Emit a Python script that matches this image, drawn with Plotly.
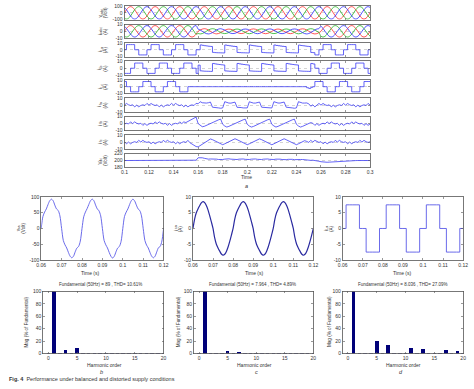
import plotly.graph_objects as go

W, H = 474, 389

# ---------------- data ----------------
# time grids (s)
t_top = [round(0.1 + k / 600.0, 6) for k in range(121)]
t_bc = [round(0.06 + k / 1200.0, 6) for k in range(73)]
t_d = [round(0.06 + k / 600.0, 6) for k in range(37)]
harm_order = list(range(21))

top_xticks = [0.1, 0.12, 0.14, 0.16, 0.18, 0.2, 0.22, 0.24, 0.26, 0.28, 0.3]
top_xlabels = ['0.1', '0.12', '0.14', '0.16', '0.18', '0.2', '0.22', '0.24', '0.26', '0.28', '0.3']
bot_xticks = [0.06, 0.07, 0.08, 0.09, 0.1, 0.11, 0.12]
bot_xlabels = ['0.06', '0.07', '0.08', '0.09', '0.1', '0.11', '0.12']

v_sa = [
    0, 45, 78, 90, 78, 45, 0, -45, -78, -90, -78, -45,
    0, 45, 78, 90, 78, 45, 0, -45, -78, -90, -78, -45,
    0, 45, 78, 90, 78, 45, 0, -45, -78, -90, -78, -45,
    0, 45, 78, 90, 78, 45, 0, -45, -78, -90, -78, -45,
    0, 45, 78, 90, 78, 45, 0, -45, -78, -90, -78, -45,
    0, 45, 78, 90, 78, 45, 0, -45, -78, -90, -78, -45,
    0, 45, 78, 90, 78, 45, 0, -45, -78, -90, -78, -45,
    0, 45, 78, 90, 78, 45, 0, -45, -78, -90, -78, -45,
    0, 45, 78, 90, 78, 45, 0, -45, -78, -90, -78, -45,
    0, 45, 78, 90, 78, 45, 0, -45, -78, -90, -78, -45,
    0]
v_sb = [
    -78, -90, -78, -45, 0, 45, 78, 90, 78, 45, 0, -45,
    -78, -90, -78, -45, 0, 45, 78, 90, 78, 45, 0, -45,
    -78, -90, -78, -45, 0, 45, 78, 90, 78, 45, 0, -45,
    -78, -90, -78, -45, 0, 45, 78, 90, 78, 45, 0, -45,
    -78, -90, -78, -45, 0, 45, 78, 90, 78, 45, 0, -45,
    -78, -90, -78, -45, 0, 45, 78, 90, 78, 45, 0, -45,
    -78, -90, -78, -45, 0, 45, 78, 90, 78, 45, 0, -45,
    -78, -90, -78, -45, 0, 45, 78, 90, 78, 45, 0, -45,
    -78, -90, -78, -45, 0, 45, 78, 90, 78, 45, 0, -45,
    -78, -90, -78, -45, 0, 45, 78, 90, 78, 45, 0, -45,
    -78]
v_sc = [
    78, 45, 0, -45, -78, -90, -78, -45, 0, 45, 78, 90,
    78, 45, 0, -45, -78, -90, -78, -45, 0, 45, 78, 90,
    78, 45, 0, -45, -78, -90, -78, -45, 0, 45, 78, 90,
    78, 45, 0, -45, -78, -90, -78, -45, 0, 45, 78, 90,
    78, 45, 0, -45, -78, -90, -78, -45, 0, 45, 78, 90,
    78, 45, 0, -45, -78, -90, -78, -45, 0, 45, 78, 90,
    78, 45, 0, -45, -78, -90, -78, -45, 0, 45, 78, 90,
    78, 45, 0, -45, -78, -90, -78, -45, 0, 45, 78, 90,
    78, 45, 0, -45, -78, -90, -78, -45, 0, 45, 78, 90,
    78, 45, 0, -45, -78, -90, -78, -45, 0, 45, 78, 90,
    78]

i_sa = [
    0, 4.1, 7.2, 8.3, 7.2, 4.1, 0, -4.1, -7.2, -8.3, -7.2, -4.1,
    0, 4.1, 7.2, 8.3, 7.2, 4.1, 0, -4.1, -7.2, -8.3, -7.2, -4.1,
    0, 4.1, 7.2, 8.3, 7.2, 4.1, 0, -4.1, -7.2, -8.3, -7.2, -4.1,
    0, 1.9, 3.2, 3.8, 3.3, 1.9, 0.1, -1.8, -3.1, -3.7, -3.2, -1.9,
    -0.2, 1.6, 2.8, 3.2, 2.9, 1.7, 0, -1.6, -2.8, -3.3, -2.9, -1.7,
    0, 1.7, 3.0, 3.5, 3.0, 1.7, 0, -1.7, -3.0, -3.5, -3.0, -1.8,
    -0.1, 1.6, 2.9, 3.3, 2.9, 1.6, 0, -1.6, -2.9, -3.4, -3.0, -1.7,
    0, 1.8, 3.1, 3.6, 3.2, 1.9, 0.2, -1.7, -3.2, -3.8, -3.4, -2.0,
    0, 4.1, 7.2, 8.3, 7.2, 4.1, 0, -4.1, -7.2, -8.3, -7.2, -4.1,
    0, 4.1, 7.2, 8.3, 7.2, 4.1, 0, -4.1, -7.2, -8.3, -7.2, -4.1,
    0]
i_sb = [
    -7.2, -8.3, -7.2, -4.1, 0, 4.1, 7.2, 8.3, 7.2, 4.1, 0, -4.1,
    -7.2, -8.3, -7.2, -4.1, 0, 4.1, 7.2, 8.3, 7.2, 4.1, 0, -4.1,
    -7.2, -8.3, -7.2, -4.1, 0, 4.1, 7.2, 8.3, 7.2, 4.1, 0, -4.1,
    -3.2, -3.8, -3.3, -1.9, 0, 1.9, 3.2, 3.8, 3.3, 1.9, 0, -1.9,
    -2.8, -3.3, -2.9, -1.7, 0.1, 1.7, 2.9, 3.3, 2.9, 1.6, 0, -1.6,
    -3.0, -3.5, -3.0, -1.7, 0, 1.7, 3.0, 3.5, 3.0, 1.7, 0, -1.7,
    -2.9, -3.3, -2.9, -1.6, 0, 1.6, 2.9, 3.4, 3.0, 1.7, 0, -1.6,
    -3.1, -3.6, -3.2, -1.9, -0.1, 1.8, 3.2, 3.8, 3.4, 2.0, 0.1, -1.9,
    -7.2, -8.3, -7.2, -4.1, 0, 4.1, 7.2, 8.3, 7.2, 4.1, 0, -4.1,
    -7.2, -8.3, -7.2, -4.1, 0, 4.1, 7.2, 8.3, 7.2, 4.1, 0, -4.1,
    -7.2]
i_sc = [
    7.2, 4.1, 0, -4.1, -7.2, -8.3, -7.2, -4.1, 0, 4.1, 7.2, 8.3,
    7.2, 4.1, 0, -4.1, -7.2, -8.3, -7.2, -4.1, 0, 4.1, 7.2, 8.3,
    7.2, 4.1, 0, -4.1, -7.2, -8.3, -7.2, -4.1, 0, 4.1, 7.2, 8.3,
    3.2, 1.9, 0, -1.9, -3.3, -3.8, -3.2, -1.9, 0, 1.9, 3.3, 3.8,
    2.9, 1.7, 0, -1.7, -2.9, -3.3, -2.9, -1.6, 0, 1.6, 2.9, 3.3,
    3.0, 1.7, 0, -1.7, -3.0, -3.5, -3.0, -1.7, 0, 1.7, 3.0, 3.5,
    2.9, 1.6, 0, -1.7, -3.0, -3.4, -2.9, -1.6, 0, 1.7, 3.0, 3.4,
    3.1, 1.9, 0, -1.9, -3.3, -3.8, -3.2, -1.9, 0, 1.9, 3.4, 3.9,
    7.2, 4.1, 0, -4.1, -7.2, -8.3, -7.2, -4.1, 0, 4.1, 7.2, 8.3,
    7.2, 4.1, 0, -4.1, -7.2, -8.3, -7.2, -4.1, 0, 4.1, 7.2, 8.3,
    7.2]

i_La = [
    0, 7.5, 7.5, 7.5, 7.5, 0, 0, -7.5, -7.5, -7.5, -7.5, 0,
    0, 7.5, 7.5, 7.5, 7.5, 0, 0, -7.5, -7.5, -7.5, -7.5, 0,
    0, 7.5, 7.5, 7.5, 7.5, 0, 0, -7.5, -7.5, -7.5, -7.5, 0,
    0, 7.0, 6.4, 5.9, 5.5, 5.1, 4.8, -3.8, -4.1, -4.3, -4.4, -4.5,
    -4.6, 6.9, 6.3, 5.8, 5.4, 5.0, 4.7, -3.9, -4.1, -4.3, -4.4, -4.5,
    -4.6, 6.9, 6.3, 5.8, 5.4, 5.0, 4.7, -3.9, -4.1, -4.3, -4.4, -4.5,
    -4.6, 6.9, 6.3, 5.8, 5.4, 5.0, 4.7, -3.9, -4.1, -4.3, -4.4, -4.5,
    -4.6, 6.8, 6.2, 5.8, 5.4, 5.0, 4.7, -3.9, -4.2, -7.5, -7.5, 0,
    0, 7.5, 7.5, 7.5, 7.5, 0, 0, -7.5, -7.5, -7.5, -7.5, 0,
    0, 7.5, 7.5, 7.5, 7.5, 0, 0, -7.5, -7.5, -7.5, -7.5, 0,
    0]
i_Lb = [
    -7.5, -7.5, -7.5, 0, 0, 7.5, 7.5, 7.5, 7.5, 0, 0, -7.5,
    -7.5, -7.5, -7.5, 0, 0, 7.5, 7.5, 7.5, 7.5, 0, 0, -7.5,
    -7.5, -7.5, -7.5, 0, 0, 7.5, 7.5, 7.5, 7.5, 0, 0, -7.5,
    4.5, -3.8, -4.1, -4.3, -4.4, -4.5, -4.6, 6.9, 6.3, 5.8, 5.4, 5.0,
    4.7, -3.9, -4.1, -4.3, -4.4, -4.5, -4.6, 6.9, 6.3, 5.8, 5.4, 5.0,
    4.7, -3.9, -4.1, -4.3, -4.4, -4.5, -4.6, 6.9, 6.3, 5.8, 5.4, 5.0,
    4.7, -3.9, -4.1, -4.3, -4.4, -4.5, -4.6, 6.9, 6.3, 5.8, 5.4, 5.0,
    4.7, -3.9, -4.1, -4.3, -4.4, -4.5, -4.6, 6.9, 6.2, 0, 0, -7.5,
    -7.5, -7.5, -7.5, 0, 0, 7.5, 7.5, 7.5, 7.5, 0, 0, -7.5,
    -7.5, -7.5, -7.5, 0, 0, 7.5, 7.5, 7.5, 7.5, 0, 0, -7.5,
    -7.5]
i_Lc = [
    7.5, 0, 0, -7.5, -7.5, -7.5, -7.5, 0, 0, 7.5, 7.5, 7.5,
    7.5, 0, 0, -7.5, -7.5, -7.5, -7.5, 0, 0, 7.5, 7.5, 7.5,
    7.5, 0, 0, -7.5, -7.5, -7.5, -7.5, 0, 0, 0, 0, 0,
    0, 0, 0, 0, 0, 0, 0, 0, 0, 0, 0, 0,
    0, 0, 0, 0, 0, 0, 0, 0, 0, 0, 0, 0,
    0, 0, 0, 0, 0, 0, 0, 0, 0, 0, 0, 0,
    0, 0, 0, 0, 0, 0, 0, 0, 0, 0, 0, 0,
    0, 0, 0, 0, 0, -1.5, -2.5, -1.0, 0, 7.5, 7.5, 7.5,
    7.5, 0, 0, -7.5, -7.5, -7.5, -7.5, 0, 0, 7.5, 7.5, 7.5,
    7.5, 0, 0, -7.5, -7.5, -7.5, -7.5, 0, 0, 7.5, 7.5, 7.5,
    7.5]

i_fa = [
    0, 2.5, 0.5, -0.5, 0.6, -2.5, 0, -2.4, -0.5, 0.5, -0.5, 2.5,
    0, 2.4, 0.6, -0.5, 0.5, -2.5, 0.1, -2.5, -0.6, 0.5, -0.4, 2.5,
    0, 2.5, 0.5, -0.6, 0.5, -2.4, 0, -2.5, -0.5, 0.4, -0.5, 2.6,
    2.0, 5.0, 3.5, 3.0, 3.0, 3.5, 4.5, -3.0, -3.0, -3.5, -4.0, -4.5,
    -4.0, 5.0, 3.6, 3.0, 2.9, 3.4, 4.4, -3.1, -3.0, -3.5, -4.0, -4.4,
    -4.0, 4.9, 3.5, 3.0, 3.0, 3.5, 4.5, -3.0, -3.1, -3.5, -3.9, -4.5,
    -4.1, 5.0, 3.5, 3.1, 3.0, 3.4, 4.5, -3.0, -3.0, -3.6, -4.0, -4.5,
    -4.0, 5.0, 3.5, 3.0, 3.0, 3.2, 2.0, -1.5, 0.5, -2.5, 0, 2.5,
    0, 2.5, 0.5, -0.5, 0.5, -2.5, 0, -2.5, -0.5, 0.5, -0.5, 2.5,
    0, 2.4, 0.5, -0.5, 0.6, -2.5, 0, -2.5, -0.5, 0.5, -0.5, 2.5,
    0]
i_fb = [
    -0.5, 0.5, -0.5, 2.5, 0, 2.5, 0.5, -0.5, 0.5, -2.5, 0, -2.5,
    -0.5, 0.6, -0.5, 2.4, 0, 2.5, 0.5, -0.6, 0.5, -2.5, 0.1, -2.5,
    -0.5, 0.5, -0.5, 2.5, 0, 2.5, 1.5, 3.0, 4.5, 6.0, 8.0, 9.5,
    0, -3.0, -4.5, -4.0, -2.5, -1.0, 0.5, 2.0, 3.5, 4.5, 5.5, 6.5,
    -1.0, -3.5, -5.0, -4.0, -2.5, -1.0, 0.5, 2.0, 3.5, 4.5, 5.5, 6.5,
    -1.0, -3.5, -5.0, -4.1, -2.6, -1.0, 0.5, 2.0, 3.4, 4.5, 5.6, 6.4,
    -1.0, -3.4, -5.0, -4.0, -2.5, -1.1, 0.4, 2.0, 3.5, 4.6, 5.5, 6.5,
    -1.0, -3.5, -5.0, -4.0, -2.5, -1.0, 0.5, 1.5, 0.5, -2.5, 0, -2.5,
    -0.5, 0.5, -0.5, 2.5, 0, 2.5, 0.5, -0.5, 0.5, -2.5, 0, -2.5,
    -0.5, 0.5, -0.6, 2.5, 0, 2.4, 0.5, -0.5, 0.5, -2.5, 0, -2.5,
    -0.5]
i_fc = [
    0.5, -2.5, 0, -2.5, -0.5, 0.5, -0.5, 2.5, 0, 2.5, 0.5, -0.5,
    0.5, -2.4, 0, -2.5, -0.6, 0.5, -0.5, 2.5, 0.1, 2.5, 0.5, -0.5,
    0.5, -2.5, 0, -2.5, -0.5, 0.5, -0.5, 2.5, -1.0, -3.0, -5.0, -6.5,
    -7.0, -5.0, -3.0, -1.0, 1.0, 3.0, 4.5, 3.5, 2.0, 0.5, -1.0, -2.5,
    -3.8, -2.5, -1.0, 0.5, 2.0, 3.5, 4.8, 3.5, 2.0, 0.5, -1.0, -2.5,
    -3.8, -2.5, -1.0, 0.5, 2.0, 3.5, 4.7, 3.5, 2.0, 0.5, -1.0, -2.6,
    -3.9, -2.5, -1.0, 0.5, 2.0, 3.5, 4.8, 3.4, 2.0, 0.5, -1.0, -2.5,
    -3.8, -2.5, -1.0, 0.5, 2.0, 1.0, -0.5, 2.5, 0, 2.5, 0.5, -0.5,
    0.5, -2.5, 0, -2.5, -0.5, 0.5, -0.5, 2.5, 0, 2.5, 0.5, -0.5,
    0.5, -2.5, 0, -2.4, -0.5, 0.5, -0.5, 2.5, 0, 2.5, 0.5, -0.5,
    0.5]

v_dc = [
    200, 200, 200, 200, 200, 200, 200, 200, 200, 200, 200, 200,
    200, 200, 200, 200, 200, 200, 200, 200, 200, 200, 200, 200,
    200, 200, 200, 200, 200, 200, 200, 200, 200, 200, 200, 201,
    208, 209, 208, 206.5, 205, 204, 204.5, 205, 205, 204, 203, 202.5,
    203, 204, 205, 205, 204, 203, 202.5, 203, 204, 205, 204.5, 203.5,
    202.5, 203, 204, 205, 204.5, 203.5, 202.5, 203, 204, 205, 204.5, 203.5,
    202.5, 203, 204, 204.5, 204, 203, 202, 202.5, 203.5, 204, 203.5, 202.5,
    202, 202.5, 203, 203, 202, 201, 200.5, 200.5, 201, 200.5, 199.5, 198,
    196.5, 195.5, 195, 195, 195.3, 195.8, 196.3, 196.8, 197.3, 197.8, 198.3, 198.7,
    199, 199.3, 199.5, 199.7, 199.8, 199.9, 200, 200, 200, 200, 200, 200,
    200]

# panel b / c / d waveforms (0.06 - 0.12 s)
v_sa_b = [
    0, 38, 52, 62, 76, 88, 93, 88, 74, 62, 57, 40, 0, -38, -52, -62, -76, -88, -93, -88, -74, -62, -57, -40,
    0, 37, 52, 63, 76, 88, 93, 88, 74, 62, 56, 40, 0, -38, -52, -62, -76, -88, -94, -88, -74, -62, -57, -41,
    0, 38, 52, 62, 76, 88, 93, 87, 74, 62, 57, 40, 0, -38, -53, -62, -76, -88, -93, -88, -74, -61, -57, -40,
    0]
i_sa_c = [
    0, 3.0, 5.0, 6.2, 7.2, 8.1, 8.5, 8.2, 7.3, 5.9, 4.1, 2.1, 0, -3.0, -5.0, -6.2, -7.2, -8.1, -8.5, -8.2, -7.3, -5.9, -4.1, -2.1,
    0, 3.0, 5.0, 6.2, 7.2, 8.1, 8.5, 8.2, 7.3, 5.9, 4.1, 2.1, 0, -3.0, -5.0, -6.2, -7.2, -8.1, -8.5, -8.2, -7.3, -5.9, -4.1, -2.1,
    0, 3.0, 5.0, 6.2, 7.2, 8.1, 8.5, 8.2, 7.3, 5.9, 4.1, 2.1, 0, -3.0, -5.0, -6.2, -7.2, -8.1, -8.5, -8.2, -7.3, -5.9, -4.1, -2.1,
    0]
i_La_d = [
    0, 7.5, 7.5, 7.5, 7.5, 0, 0, -7.5, -7.5, -7.5, -7.5, 0,
    0, 7.5, 7.5, 7.5, 7.5, 0, 0, -7.5, -7.5, -7.5, -7.5, 0,
    0, 7.5, 7.5, 7.5, 7.5, 0, 0, -7.5, -7.5, -7.5, -7.5, 0,
    0]

# harmonic spectra (% of fundamental)
mag_b = [1.2, 100, 1.2, 6, 1.2, 9, 1.2, 1.2, 1.2, 1.2, 1.2, 1.2, 1.2, 1.2, 1.2, 1.2, 1.2, 1.2, 1.2, 1.2, 1.2]
mag_c = [1.2, 100, 1.2, 1.2, 1.2, 4.8, 1.2, 2.5, 1.2, 1.2, 1.2, 1.2, 1.2, 1.2, 1.2, 1.2, 1.2, 1.2, 1.2, 1.2, 1.2]
mag_d = [1.2, 100, 1.2, 1.2, 1.2, 20.5, 1.2, 14, 1.2, 1.2, 1.2, 9, 1.2, 7.3, 1.2, 1.2, 1.2, 5.3, 1.2, 4.2, 1.2]

titles_bars = ['Fundamental (50Hz) = 89 , THD= 10.61%',
               'Fundamental (50Hz) = 7.964 , THD= 4.89%',
               'Fundamental (50Hz) = 8.036 , THD= 27.09%']

# ---------------- figure ----------------
FONT = 'Liberation Sans, Arial, Helvetica, sans-serif'
TXT = '#333333'
RED, GRN, BLU = '#ff2a2a', '#22b422', '#2a2aff'
LB = '#3c3cf5'

layout = dict(width=W, height=H, margin=dict(l=0, r=0, t=0, b=0),
              paper_bgcolor='white', plot_bgcolor='white', showlegend=False,
              font=dict(family=FONT, size=5, color=TXT))
annotations = []


def xd(l, r):
    return [l / W, r / W]


def yd(top, bot):
    return [1 - bot / H, 1 - top / H]


frame = dict(showline=True, linecolor='#555555', linewidth=0.8, mirror='ticks',
             ticks='inside', ticklen=2, tickwidth=0.6, tickcolor='#555555',
             zeroline=False, showgrid=False,
             tickfont=dict(family=FONT, size=5, color=TXT))

counter = [0]


def add_axes(xdom, ydom, xopts, yopts):
    counter[0] += 1
    n = counter[0]
    s = '' if n == 1 else str(n)
    xa = dict(frame)
    xa.update(xopts)
    xa.update(domain=xdom, anchor='y' + s)
    ya = dict(frame)
    ya.update(yopts)
    ya.update(domain=ydom, anchor='x' + s)
    layout['xaxis' + s] = xa
    layout['yaxis' + s] = ya
    return 'x' + s, 'y' + s


def note(text, xp, yp, size=5, angle=0, italic=False, xanchor='center', yanchor='middle'):
    if italic:
        text = '<i>' + text + '</i>'
    annotations.append(dict(text=text, x=xp / W, y=1 - yp / H, xref='paper', yref='paper',
                            showarrow=False, textangle=angle, xanchor=xanchor, yanchor=yanchor,
                            font=dict(family=FONT, size=size, color=TXT)))


def rotated_label(var, sub, unit, xp, yp, size=4.6):
    # two rotated lines: variable with subscript (left line) and unit (right line)
    fs = size * 0.75
    w_main = 0.5 * size * len(var)
    w_sub = 0.5 * fs * len(sub)
    total = w_main + w_sub
    y_start = yp + total / 2.0
    x_line = xp - 2.6
    note(var, x_line, y_start - w_main / 2.0, size=size, angle=-90)
    note(sub, x_line + 0.9, y_start - w_main - w_sub / 2.0, size=fs, angle=-90)
    note(unit, xp + 2.6, yp, size=size, angle=-90)


fig = go.Figure()

top_rows = [
    ([(v_sa, RED), (v_sb, GRN), (v_sc, BLU)], 'spline', [-100, 100], [-100, 0, 100], ['-100', '0', '100'], ('v', 'sabc', '(Volt)')),
    ([(i_sa, RED), (i_sb, GRN), (i_sc, BLU)], 'spline', [-10, 10], [-10, 0, 10], ['-10', '0', '10'], ('i', 'sabc', '(A)')),
    ([(i_La, LB)], 'hv', [-10, 10], [-10, 0, 10], ['-10', '0', '10'], ('i', 'La', '(A)')),
    ([(i_Lb, LB)], 'hv', [-10, 10], [-10, 0, 10], ['-10', '0', '10'], ('i', 'Lb', '(A)')),
    ([(i_Lc, LB)], 'hv', [-10, 10], [-10, 0, 10], ['-10', '0', '10'], ('i', 'Lc', '(A)')),
    ([(i_fa, LB)], 'linear', [-10, 10], [-10, 0, 10], ['-10', '0', '10'], ('i', 'fa', '(A)')),
    ([(i_fb, LB)], 'linear', [-10, 10], [-10, 0, 10], ['-10', '0', '10'], ('i', 'fb', '(A)')),
    ([(i_fc, LB)], 'linear', [-10, 10], [-10, 0, 10], ['-10', '0', '10'], ('i', 'fc', '(A)')),
    ([(v_dc, LB)], 'linear', [180, 220], [180, 200, 220], ['180', '200', '220'], ('V', 'dc', '(Volt)')),
]

for i, (series, shape, yr, yt, ytt, lab) in enumerate(top_rows):
    top = 3 + 18.75 * i
    bot = top + 14
    xa, ya = add_axes(xd(122, 373), yd(top, bot),
                      dict(range=[0.1, 0.3], tickvals=top_xticks, ticktext=top_xlabels,
                           showticklabels=(i == 8)),
                      dict(range=yr, tickvals=yt, ticktext=ytt, showgrid=True,
                           gridcolor='#b8b8b8', griddash='dot', gridwidth=0.6))
    for vals, col in series:
        line = dict(color=col, width=0.8, shape=shape)
        if shape == 'spline':
            line['smoothing'] = 1.0
        fig.add_trace(go.Scatter(x=t_top, y=vals, mode='lines', xaxis=xa, yaxis=ya,
                                 line=line, hoverinfo='skip'))
    rotated_label(lab[0], lab[1], lab[2], 100, (top + bot) / 2)

note('Time', 247, 177)
note('a', 247, 186, size=5.5, italic=True)

# ---- panels b, c, d (waveforms) ----
cols_x = [(37, 162), (192, 315), (345, 468)]
wave_sets = [
    (t_bc, v_sa_b, 'spline', '#5a5ae8', 0.9, [-100, 100], [-100, -50, 0, 50, 100], ['-100', '-50', '0', '50', '100'], ('v', 'sa', '(Volt)'), 16),
    (t_bc, i_sa_c, 'spline', '#2a2aa0', 1.2, [-10, 10], [-10, -5, 0, 5, 10], ['-10', '-5', '0', '5', '10'], ('i', 'sa', '(A)'), 177),
    (t_d, i_La_d, 'hv', '#5a5ae8', 0.9, [-10, 10], [-10, -5, 0, 5, 10], ['-10', '-5', '0', '5', '10'], ('i', 'La', '(A)'), 331),
]
time_label_x = [87, 254, 406]
for (l, r), (tx, vals, shape, col, lw, yr, yt, ytt, lab, labx), tlx in zip(cols_x, wave_sets, time_label_x):
    xa, ya = add_axes(xd(l, r), yd(197, 261),
                      dict(range=[0.06, 0.12], tickvals=bot_xticks, ticktext=bot_xlabels),
                      dict(range=yr, tickvals=yt, ticktext=ytt))
    line = dict(color=col, width=lw, shape=shape)
    if shape == 'spline':
        line['smoothing'] = 0.8
    fig.add_trace(go.Scatter(x=tx, y=vals, mode='lines', xaxis=xa, yaxis=ya, line=line, hoverinfo='skip'))
    rotated_label(lab[0], lab[1], lab[2], labx, 229)
    note('Time (s)', tlx, 274)

# ---- harmonic spectra ----
bar_x = [(39, 162), (193, 315), (345, 468)]
mags = [mag_b, mag_c, mag_d]
title_x = [98, 253, 406]
ylab_x = [21, 177, 331]
letters = [('b', 99), ('c', 257), ('d', 405)]
for (l, r), mag, ttl, tx, yx, (let, lx) in zip(bar_x, mags, titles_bars, title_x, ylab_x, letters):
    xa, ya = add_axes(xd(l, r), yd(293, 356),
                      dict(range=[-0.9, 20], tickvals=[0, 5, 10, 15, 20], ticktext=['0', '5', '10', '15', '20']),
                      dict(range=[0, 100], tickvals=[0, 20, 40, 60, 80, 100],
                           ticktext=['0', '20', '40', '60', '80', '100']))
    fig.add_trace(go.Bar(x=harm_order, y=mag, xaxis=xa, yaxis=ya, width=0.62,
                         marker=dict(color='#000078', line=dict(width=0)), hoverinfo='skip'))
    note(ttl, tx, 286, size=4.5)
    note('Mag (% of Fundamental)', yx, 324, size=4.6, angle=-90)
    note('Harmonic order', (l + r) / 2 + 1, 368)
    note(let, lx, 375, size=5.5, italic=True)

note('<b>Fig. 4</b>  Performance under balanced and distorted supply conditions', 2, 387,
     size=5.5, xanchor='left', yanchor='bottom')

layout['annotations'] = annotations
layout['bargap'] = 0
fig.update_layout(**layout)
fig.write_html('out.html', config={'displayModeBar': False, 'staticPlot': True},
               post_script="document.body.style.margin='0px';document.body.style.overflow='hidden';")
